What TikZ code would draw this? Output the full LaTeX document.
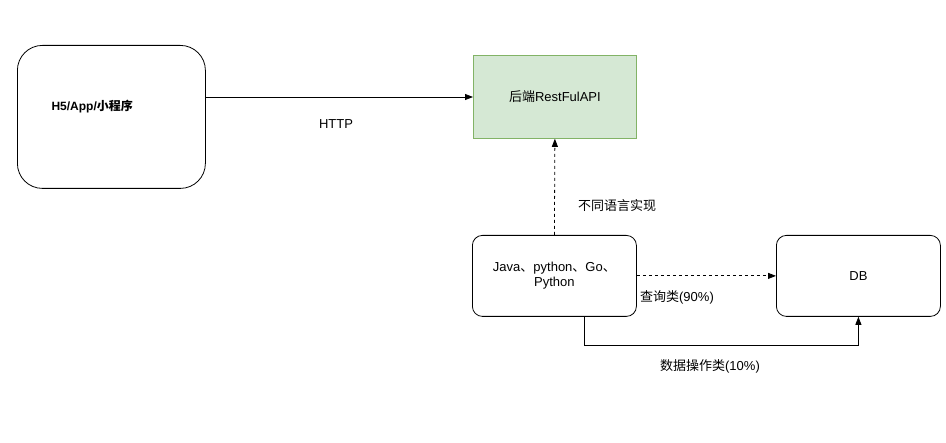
\documentclass[tikz,border=0pt]{standalone}
\usepackage{fontspec}
\setmainfont{Liberation Sans}
\newfontfamily\cjk{Noto Sans CJK SC}
\usetikzlibrary{arrows.meta}
\begin{document}
\begin{tikzpicture}[x=1pt,y=-1pt,
 box/.style={draw=black,line width=0.8pt,rounded corners=10pt,anchor=north west},
 lab/.style={font=\fontsize{13}{15}\selectfont},
 arr/.style={-{Triangle[length=8pt,width=6pt]},line width=0.8pt}]
\useasboundingbox (0,0) rectangle (946,443);
\node[box,rounded corners=25pt,minimum width=188pt,minimum height=143pt] (app) at (17,45) {};
\node[font=\bfseries\fontsize{12}{14}\selectfont,anchor=west] (apptext) at (48,107) {H5/App/{\cjk 小程序}};
\node[draw={rgb,255:red,130;green,179;blue,102},fill={rgb,255:red,213;green,232;blue,212},line width=0.8pt,minimum width=163pt,minimum height=83pt,anchor=north west] (api) at (473,55) {};
\node[lab] at (api.center) {{\cjk 后端}RestFulAPI};
\node[box,minimum width=164pt,minimum height=81pt] (java) at (472,235) {};
\node[lab,align=center] at (java.center) {Java{\cjk 、}python{\cjk 、}Go{\cjk 、}\\Python};
\node[box,minimum width=164pt,minimum height=81pt] (db) at (776,235) {};
\node[lab] at (db.center) {DB};
\draw[arr] (app.east |- 0,97) -- (api.west |- 0,97);
\node[lab] at (336,124) {HTTP};
\draw[arr,dashed] (java.north) -- (api.south);
\node[lab] at (617,206) {\cjk 不同语言实现};
\draw[arr,dashed] (java.east) -- (db.west);
\node[lab] at (677,297) {{\cjk 查询类}(90\%)};
\coordinate (c1) at (584,345);
\draw[arr] (java.south -| c1) -- (c1) -| (db.south);
\node[lab] at (710,366) {{\cjk 数据操作类}(10\%)};
\end{tikzpicture}
\end{document}
